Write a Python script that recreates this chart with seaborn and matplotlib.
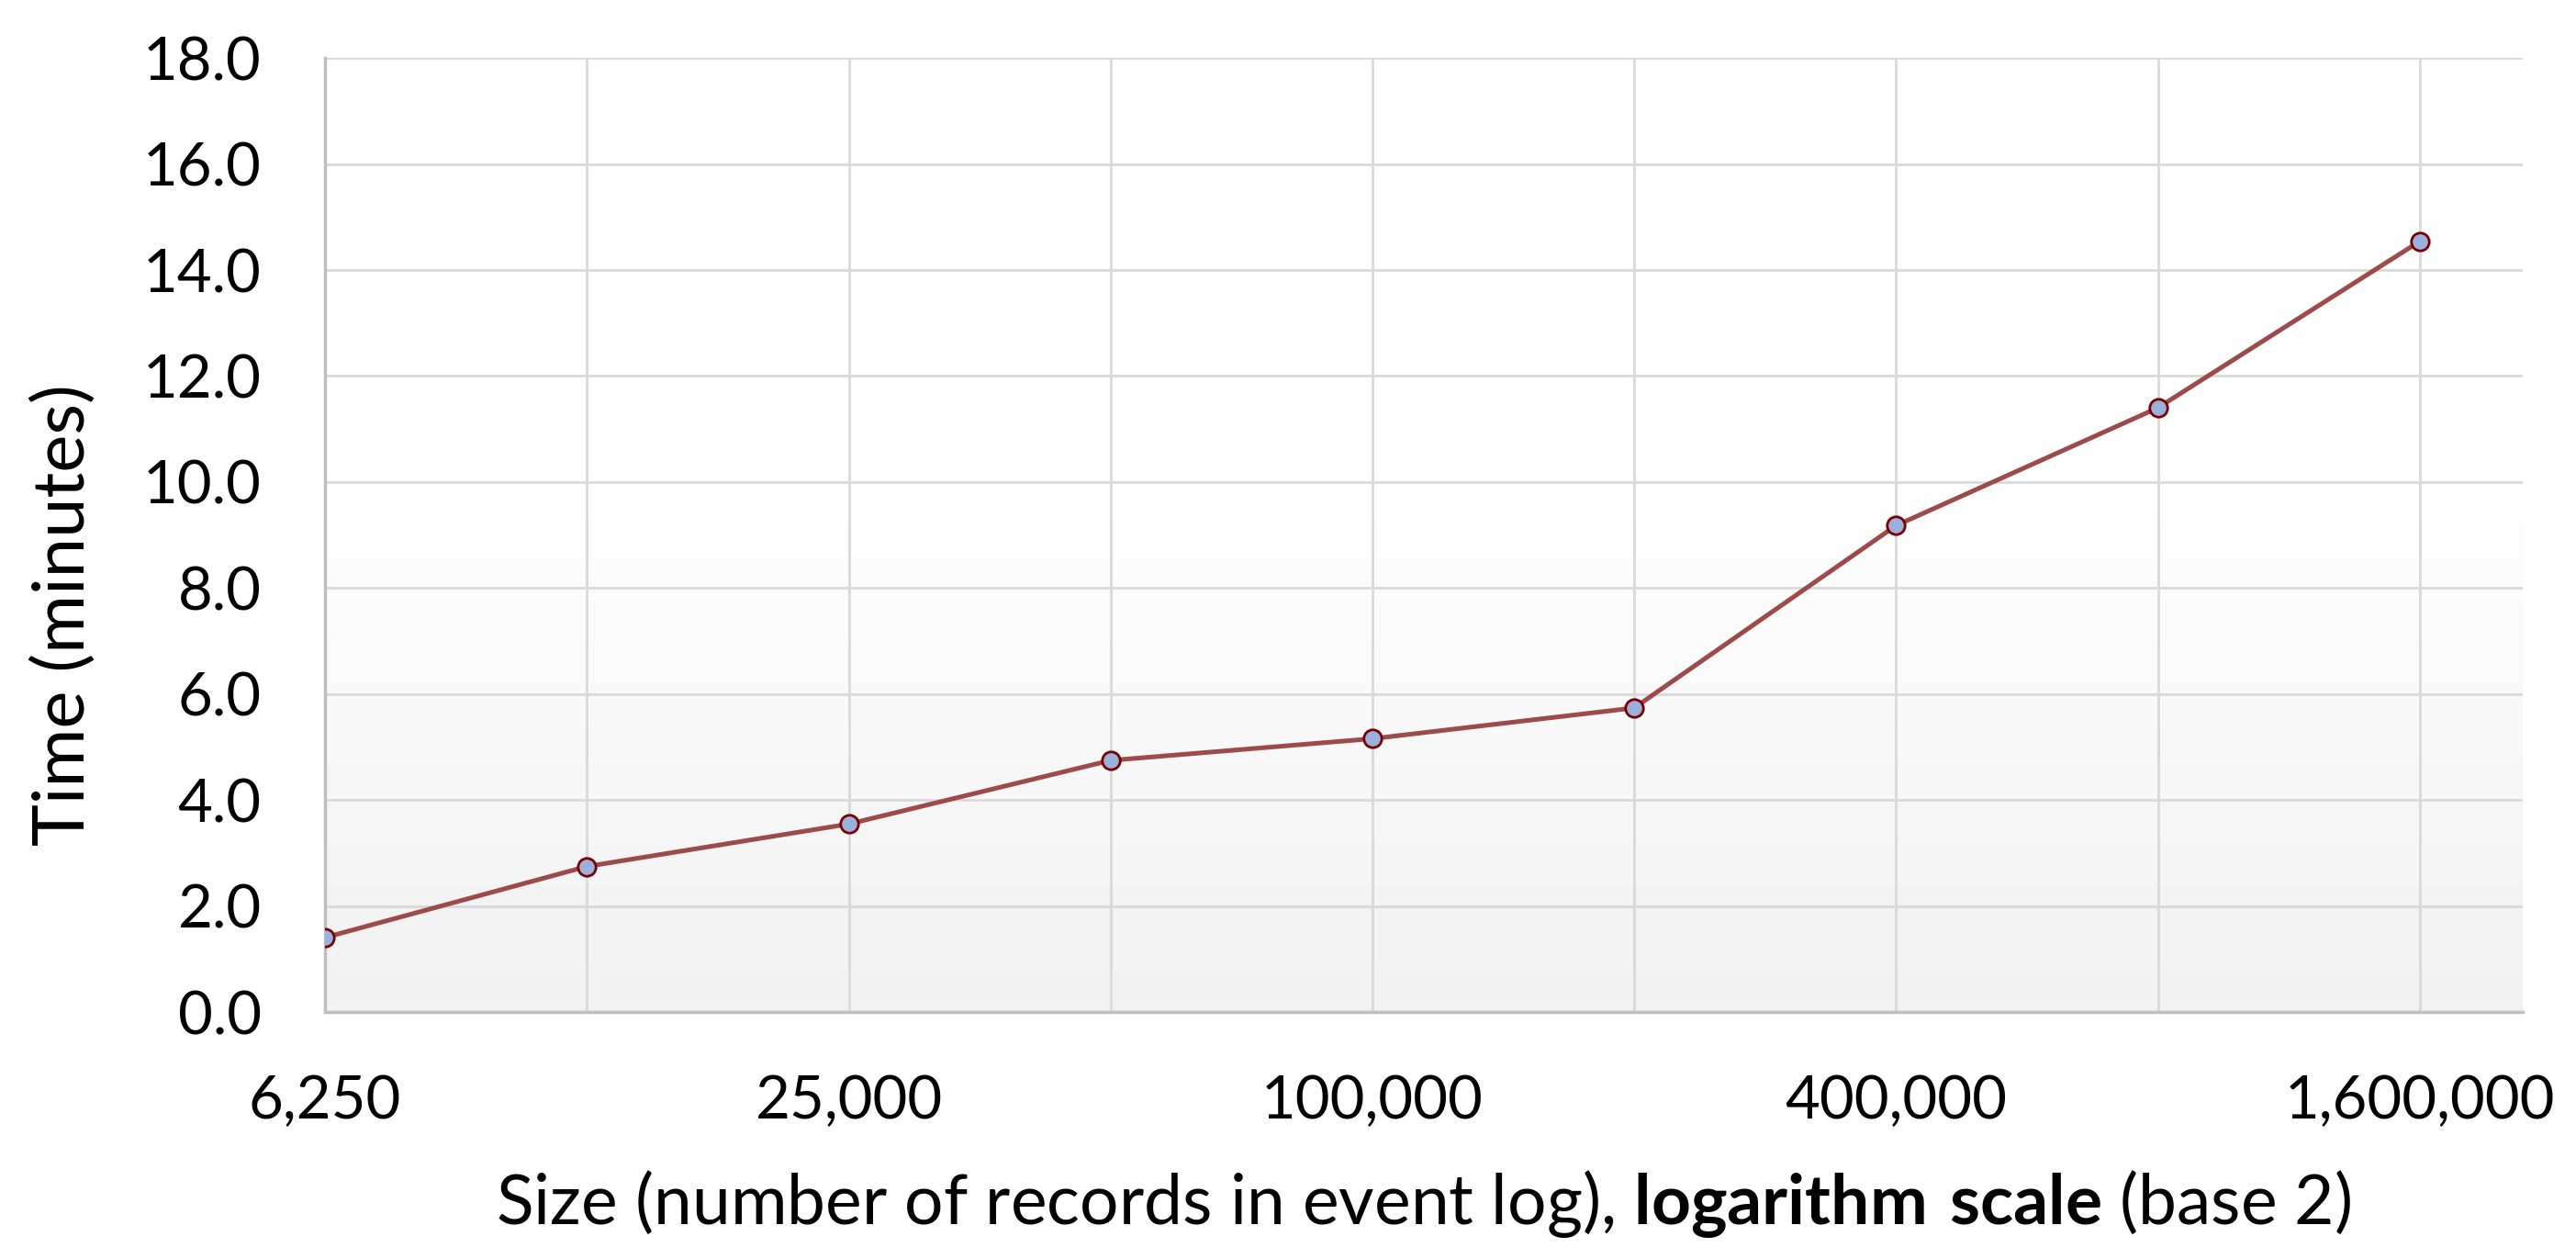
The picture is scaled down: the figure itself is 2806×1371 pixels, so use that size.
import matplotlib
matplotlib.use("Agg")
import matplotlib.pyplot as plt
import numpy as np
import pandas as pd
import seaborn as sns
from matplotlib.ticker import FixedLocator, NullFormatter

# event-log sizes (records) and run times (minutes)
sizes = [6250, 12500, 25000, 50000, 100000, 200000, 400000, 800000, 1600000]
minutes = [1.41, 2.75, 3.55, 4.75, 5.16, 5.74, 9.18, 11.40, 14.54]
labelled_sizes = [6250, 25000, 100000, 400000, 1600000]
y_ticks = [0, 2, 4, 6, 8, 10, 12, 14, 16, 18]

FONT = "Lato"
LINE_COLOR = "#9c4a4a"
GRID_COLOR = "#d9d9d9"

sns.set_theme(style="white")
plt.rcParams["font.family"] = [FONT, "DejaVu Sans"]
plt.rcParams["mathtext.fontset"] = "custom"
plt.rcParams["mathtext.rm"] = FONT
plt.rcParams["mathtext.bf"] = FONT + ":bold"
plt.rcParams["text.color"] = "black"
plt.rcParams["axes.labelcolor"] = "black"

df = pd.DataFrame({"size": sizes, "minutes": minutes})

fig = plt.figure(figsize=(28.06, 13.71), dpi=100)
ax = fig.add_axes([0.1262, 0.196, 0.853, 0.758])

# soft vertical gradient behind the plot area: white on top, light grey at the bottom
t = np.linspace(0, 1, 256)
grad = (0.945 + 0.055 * np.clip(t / 0.6, 0, 1)).reshape(-1, 1)
ax.imshow(grad, extent=[0, 1, 0, 1], transform=ax.transAxes, cmap="gray",
          vmin=0, vmax=1, aspect="auto", zorder=0, origin="lower")

sns.lineplot(data=df, x="size", y="minutes", ax=ax, color=LINE_COLOR,
             linewidth=3.6, marker="o", markersize=14,
             markerfacecolor="#9bb0dc", markeredgecolor="#7a0000",
             markeredgewidth=2.0, zorder=3)

ax.set_xscale("log", base=2)
ax.set_xlim(6250, 2.1e6)
ax.set_ylim(0, 18)

ax.xaxis.set_major_locator(FixedLocator(labelled_sizes))
ax.set_xticklabels([f"{v:,}" for v in labelled_sizes])
ax.xaxis.set_minor_locator(FixedLocator([s for s in sizes if s not in labelled_sizes]))
ax.xaxis.set_minor_formatter(NullFormatter())
ax.set_yticks(y_ticks)
ax.set_yticklabels([f"{v:.1f}" for v in y_ticks])

ax.grid(True, which="both", color=GRID_COLOR, linewidth=2.0, zorder=1)
ax.set_axisbelow(True)

for side in ["top", "right"]:
    ax.spines[side].set_visible(False)
for side in ["left", "bottom"]:
    ax.spines[side].set_color("#bfbfbf")
    ax.spines[side].set_linewidth(2.5)

ax.tick_params(axis="both", which="both", length=0, labelsize=47, colors="black")
ax.tick_params(axis="x", pad=49)
ax.tick_params(axis="y", pad=50)

ax.set_ylabel("Time (minutes)", fontsize=56)
ax.yaxis.set_label_coords(-0.104, 0.416)
ax.set_xlabel(r"Size (number of records in event log), $\mathbf{logarithm\ scale}$ (base 2)",
              fontsize=54)
ax.xaxis.set_label_coords(0.5, -0.163)

fig.savefig("out.png", dpi=100)
